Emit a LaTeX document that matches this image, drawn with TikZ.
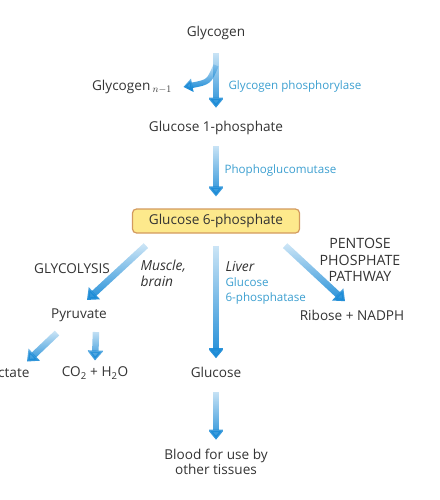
\documentclass[tikz,border=0pt]{standalone}
\usepackage{fontspec}
\setmainfont{Open Sans}
\usetikzlibrary{positioning, arrows.meta, fadings}

\definecolor{flowblue}{HTML}{1A8AD6}
\definecolor{enzblue}{HTML}{3C9FD0}
\definecolor{textgray}{HTML}{333333}
\definecolor{hubfill}{HTML}{FDE98C}
\definecolor{hubborder}{HTML}{D39A5E}

\tikzfading[name=flowfade, top color=transparent!80, bottom color=transparent!0]

\begin{document}
\begin{tikzpicture}[x=1pt,y=-1pt,node distance=95pt,on grid,
    every node/.style={font=\fontsize{13.6}{15}\selectfont, text=textgray},
    flow/.style={line width=6.5pt, draw=flowblue, path fading=flowfade,
        -{Triangle[width=16pt,length=10pt]}},
    enzyme/.style={text=enzblue, font=\fontsize{11.6}{15}\selectfont},
    tissue/.style={font=\itshape\fontsize{13.8}{16}\selectfont},
    hub/.style={draw=hubborder, fill=hubfill, line width=1.2pt, rounded corners=4pt,
        minimum width=167pt, minimum height=24pt}]

    \useasboundingbox (0,0) rectangle (439,500);

    \node (glycogen) at (216,33) {Glycogen};
    \node (glycogen_n) at (132,87) {Glycogen\,$_{n-1}$};
    \node (g1p) [below=95pt of glycogen] {Glucose 1-phosphate};
    \node[hub] (g6p) [below=93pt of g1p] {Glucose 6-phosphate};
    \node (pyruvate) at (79,315) {Pyruvate};
    \node (ribose) at (352,315) {Ribose + NADPH};
    \node (glucose) [below=151pt of g6p] {Glucose};
    \node (lactate) [anchor=east] at (33,373) {Lactate};
    \node (co2) at (95,373) {CO\textsubscript{2} + H\textsubscript{2}O};
    \node (blood) [align=center, below=90pt of glucose] {Blood for use by\\other tissues};

    \node (glycolysis) at (72,269) {GLYCOLYSIS};
    \node[tissue, align=left, anchor=west] (muscle) at (137,273) {Muscle,\\brain};
    \node[tissue, anchor=west] (liver) at (222,266) {Liver};
    \node[enzyme, align=left, anchor=west] (g6pase) at (222,291) {Glucose\\6-phosphatase};
    \node[align=center, font=\fontsize{14.2}{16.5}\selectfont] (pentose) at (360,260)
        {PENTOSE\\PHOSPHATE\\PATHWAY};
    \node[enzyme, anchor=west] (phosphorylase) at (225,86) {Glycogen phosphorylase};
    \node[enzyme, anchor=west] (mutase) at (221,170) {Phophoglucomutase};

    \draw[flow] ([yshift=-10pt]glycogen.south) -- ([yshift=10pt]g1p.north);
    \draw[flow, line width=5.5pt, -{Triangle[width=13pt,length=9pt]}]
        ([yshift=-22pt]glycogen.south) .. controls (209,82) .. ([xshift=8pt]glycogen_n.east);
    \draw[flow] ([yshift=-8pt]g1p.south) -- ([yshift=12pt]g6p.north);

    \draw[flow] ([xshift=14pt,yshift=-12pt]g6p.south west) -- ([xshift=8pt,yshift=5pt]pyruvate.north);
    \draw[flow] ([yshift=-12pt]g6p.south) -- ([yshift=5pt]glucose.north);
    \draw[flow] ([xshift=-15pt,yshift=-12pt]g6p.south east) -- ([xshift=-7pt,yshift=5pt]ribose.north);

    \draw[flow] ([xshift=-22pt,yshift=-8pt]pyruvate.south) -- ([xshift=-6pt,yshift=3pt]lactate.north east);
    \draw[flow] ([xshift=17pt,yshift=-7pt]pyruvate.south) -- ([yshift=3pt]co2.north);
    \draw[flow] ([yshift=-11pt]glucose.south) -- ([yshift=6pt]blood.north);

\end{tikzpicture}
\end{document}
